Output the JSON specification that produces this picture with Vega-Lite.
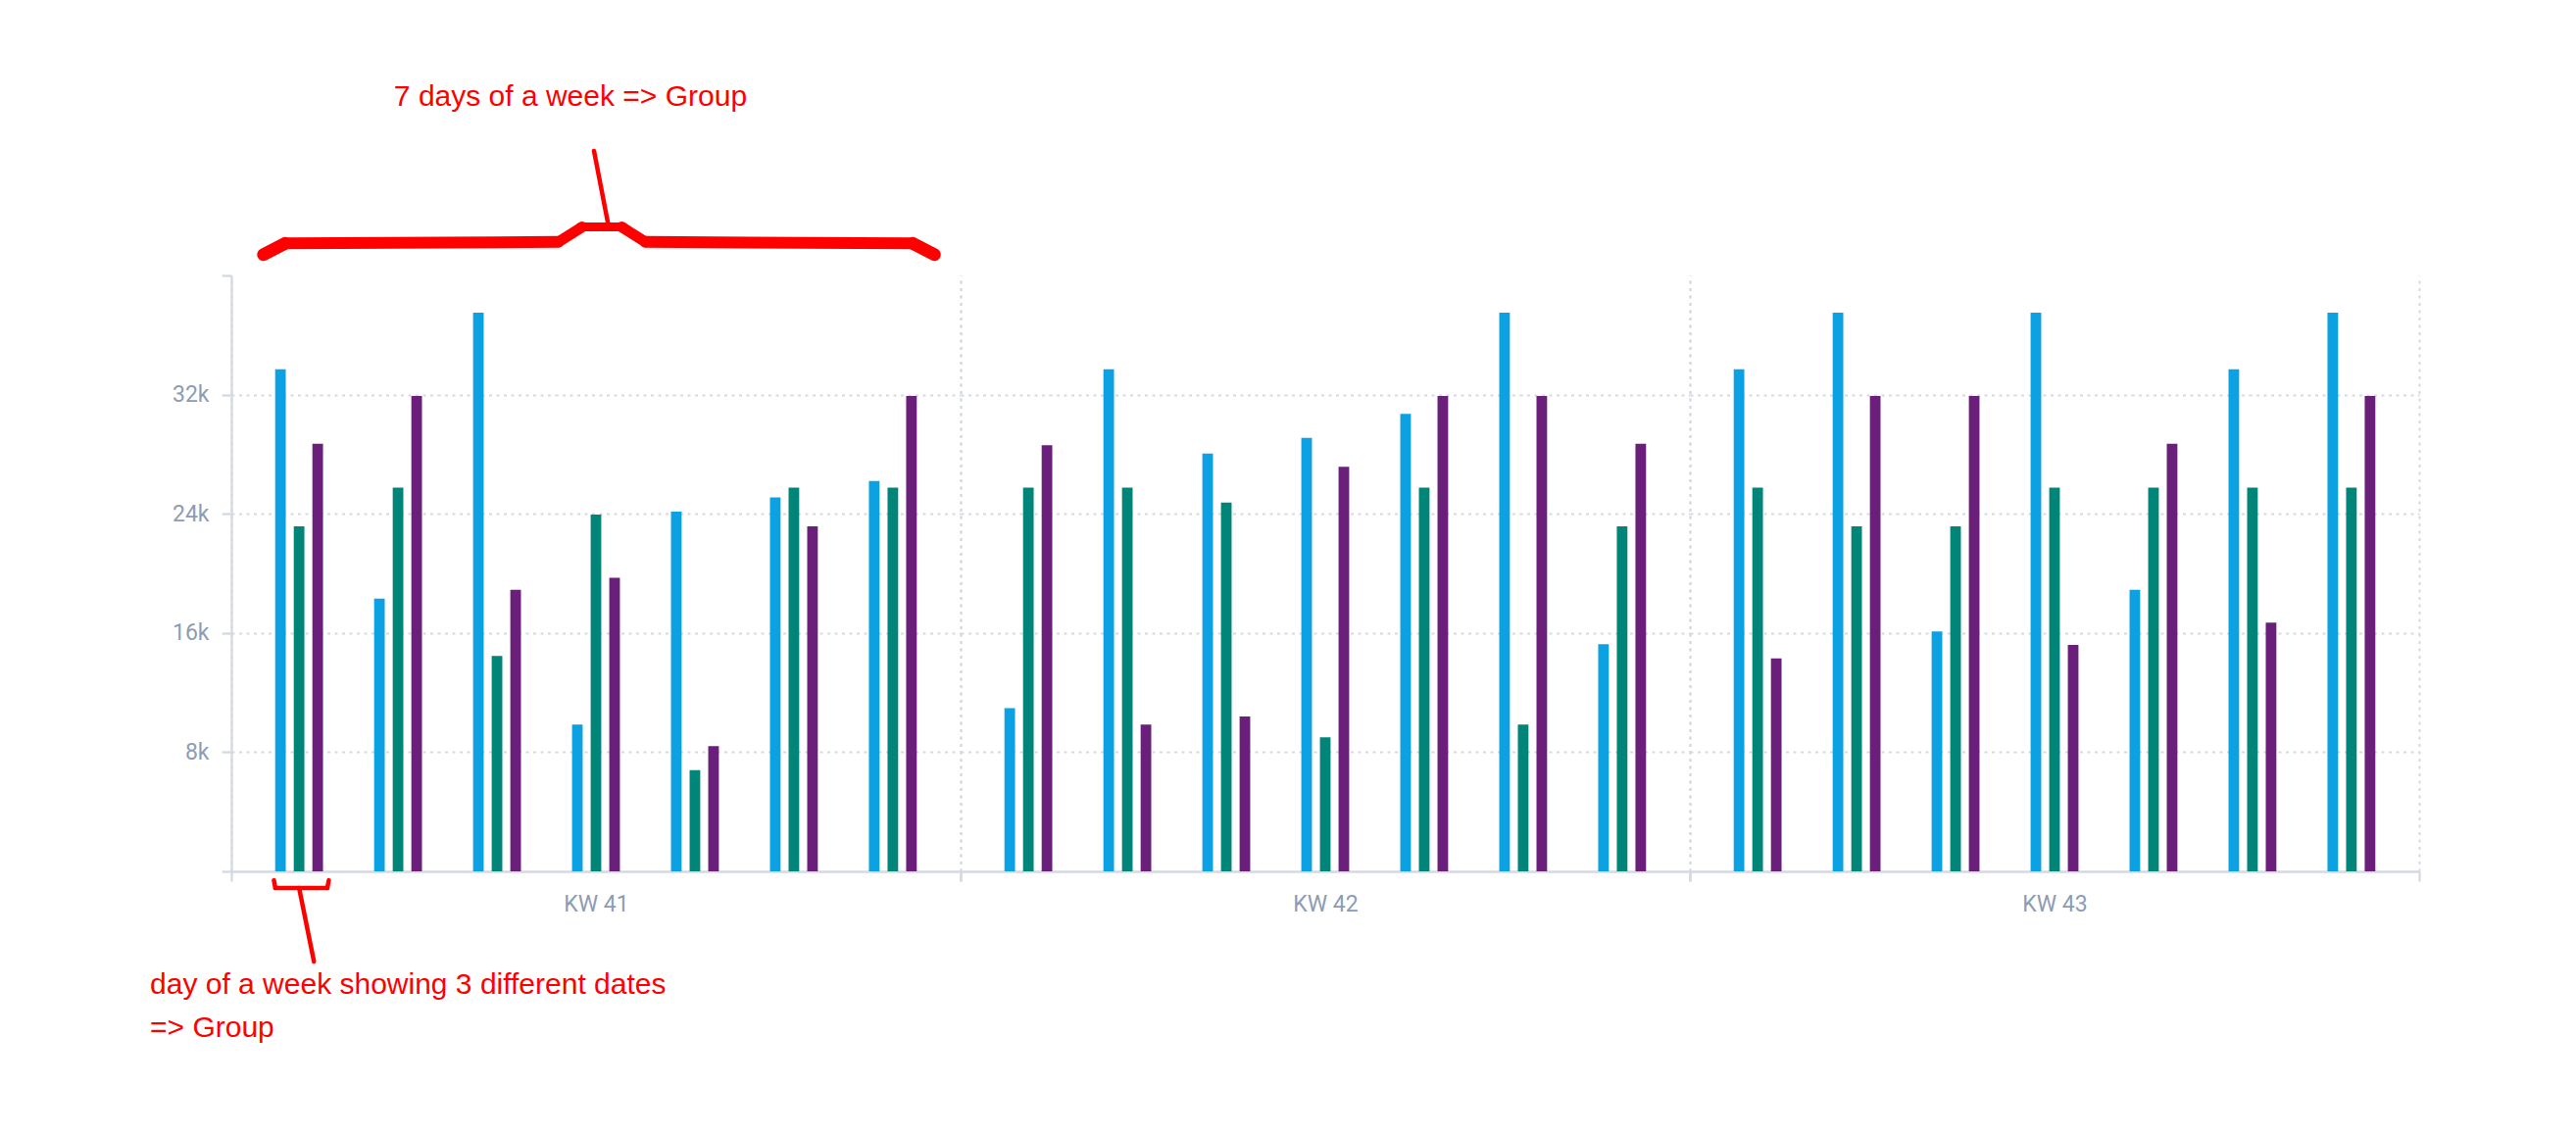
{
  "$schema": "https://vega.github.io/schema/vega-lite/v6.json",
  "padding": {"left": 153, "top": 83, "right": 10, "bottom": 10},
  "background": "white",
  "spacing": 0,
  "bounds": "flush",
  "config": {
    "view": {"stroke": null},
    "axis": {
      "labelFont": "Roboto",
      "labelFontSize": 23,
      "labelColor": "#8d9cb5",
      "domainColor": "#d4d9e2",
      "domainWidth": 2.3,
      "tickColor": "#d4d9e2",
      "tickWidth": 2.3,
      "tickSize": 10,
      "gridColor": "#d4d9e2",
      "gridDash": [3, 4.5],
      "gridWidth": 2
    }
  },
  "datasets": {
    "visits": [
      {"week": "KW 41", "day": "Mo", "series": "Datum 1", "value": 33700},
      {"week": "KW 41", "day": "Mo", "series": "Datum 2", "value": 23150},
      {"week": "KW 41", "day": "Mo", "series": "Datum 3", "value": 28700},
      {"week": "KW 41", "day": "Di", "series": "Datum 1", "value": 18300},
      {"week": "KW 41", "day": "Di", "series": "Datum 2", "value": 25750},
      {"week": "KW 41", "day": "Di", "series": "Datum 3", "value": 31900},
      {"week": "KW 41", "day": "Mi", "series": "Datum 1", "value": 37500},
      {"week": "KW 41", "day": "Mi", "series": "Datum 2", "value": 14450},
      {"week": "KW 41", "day": "Mi", "series": "Datum 3", "value": 18900},
      {"week": "KW 41", "day": "Do", "series": "Datum 1", "value": 9850},
      {"week": "KW 41", "day": "Do", "series": "Datum 2", "value": 23950},
      {"week": "KW 41", "day": "Do", "series": "Datum 3", "value": 19700},
      {"week": "KW 41", "day": "Fr", "series": "Datum 1", "value": 24150},
      {"week": "KW 41", "day": "Fr", "series": "Datum 2", "value": 6800},
      {"week": "KW 41", "day": "Fr", "series": "Datum 3", "value": 8400},
      {"week": "KW 41", "day": "Sa", "series": "Datum 1", "value": 25100},
      {"week": "KW 41", "day": "Sa", "series": "Datum 2", "value": 25750},
      {"week": "KW 41", "day": "Sa", "series": "Datum 3", "value": 23150},
      {"week": "KW 41", "day": "So", "series": "Datum 1", "value": 26200},
      {"week": "KW 41", "day": "So", "series": "Datum 2", "value": 25750},
      {"week": "KW 41", "day": "So", "series": "Datum 3", "value": 31900},
      {"week": "KW 42", "day": "Mo", "series": "Datum 1", "value": 10950},
      {"week": "KW 42", "day": "Mo", "series": "Datum 2", "value": 25750},
      {"week": "KW 42", "day": "Mo", "series": "Datum 3", "value": 28600},
      {"week": "KW 42", "day": "Di", "series": "Datum 1", "value": 33700},
      {"week": "KW 42", "day": "Di", "series": "Datum 2", "value": 25750},
      {"week": "KW 42", "day": "Di", "series": "Datum 3", "value": 9850},
      {"week": "KW 42", "day": "Mi", "series": "Datum 1", "value": 28050},
      {"week": "KW 42", "day": "Mi", "series": "Datum 2", "value": 24750},
      {"week": "KW 42", "day": "Mi", "series": "Datum 3", "value": 10400},
      {"week": "KW 42", "day": "Do", "series": "Datum 1", "value": 29100},
      {"week": "KW 42", "day": "Do", "series": "Datum 2", "value": 9000},
      {"week": "KW 42", "day": "Do", "series": "Datum 3", "value": 27150},
      {"week": "KW 42", "day": "Fr", "series": "Datum 1", "value": 30700},
      {"week": "KW 42", "day": "Fr", "series": "Datum 2", "value": 25750},
      {"week": "KW 42", "day": "Fr", "series": "Datum 3", "value": 31900},
      {"week": "KW 42", "day": "Sa", "series": "Datum 1", "value": 37500},
      {"week": "KW 42", "day": "Sa", "series": "Datum 2", "value": 9850},
      {"week": "KW 42", "day": "Sa", "series": "Datum 3", "value": 31900},
      {"week": "KW 42", "day": "So", "series": "Datum 1", "value": 15250},
      {"week": "KW 42", "day": "So", "series": "Datum 2", "value": 23150},
      {"week": "KW 42", "day": "So", "series": "Datum 3", "value": 28700},
      {"week": "KW 43", "day": "Mo", "series": "Datum 1", "value": 33700},
      {"week": "KW 43", "day": "Mo", "series": "Datum 2", "value": 25750},
      {"week": "KW 43", "day": "Mo", "series": "Datum 3", "value": 14300},
      {"week": "KW 43", "day": "Di", "series": "Datum 1", "value": 37500},
      {"week": "KW 43", "day": "Di", "series": "Datum 2", "value": 23150},
      {"week": "KW 43", "day": "Di", "series": "Datum 3", "value": 31900},
      {"week": "KW 43", "day": "Mi", "series": "Datum 1", "value": 16100},
      {"week": "KW 43", "day": "Mi", "series": "Datum 2", "value": 23150},
      {"week": "KW 43", "day": "Mi", "series": "Datum 3", "value": 31900},
      {"week": "KW 43", "day": "Do", "series": "Datum 1", "value": 37500},
      {"week": "KW 43", "day": "Do", "series": "Datum 2", "value": 25750},
      {"week": "KW 43", "day": "Do", "series": "Datum 3", "value": 15200},
      {"week": "KW 43", "day": "Fr", "series": "Datum 1", "value": 18900},
      {"week": "KW 43", "day": "Fr", "series": "Datum 2", "value": 25750},
      {"week": "KW 43", "day": "Fr", "series": "Datum 3", "value": 28700},
      {"week": "KW 43", "day": "Sa", "series": "Datum 1", "value": 33700},
      {"week": "KW 43", "day": "Sa", "series": "Datum 2", "value": 25750},
      {"week": "KW 43", "day": "Sa", "series": "Datum 3", "value": 16700},
      {"week": "KW 43", "day": "So", "series": "Datum 1", "value": 37500},
      {"week": "KW 43", "day": "So", "series": "Datum 2", "value": 25750},
      {"week": "KW 43", "day": "So", "series": "Datum 3", "value": 31900}
    ]
  },
  "hconcat": [
    {
      "width": 744,
      "height": 608,
      "data": {"name": "visits"},
      "transform": [{"filter": "datum.week === 'KW 41'"}],
      "layer": [
        {
          "mark": {"type": "bar"},
          "encoding": {
            "x": {"field": "day", "type": "nominal", "sort": ["Mo", "Di", "Mi", "Do", "Fr", "Sa", "So"], "scale": {"paddingInner": 0.4356, "paddingOuter": 0.4025}, "axis": null},
            "xOffset": {"field": "series", "type": "nominal", "scale": {"paddingInner": 0.43, "paddingOuter": 0.215}},
            "y": {
              "field": "value",
              "type": "quantitative",
              "scale": {"domain": [0, 40000], "nice": false},
              "axis": {
                "title": null,
                "values": [0, 8000, 16000, 24000, 32000, 40000],
                "format": "~s",
                "labelExpr": "datum.value > 0 && datum.value < 40000 ? datum.label : ''",
                "labelPadding": 13,
                "gridOpacity": {"condition": {"test": "datum.value === 0 || datum.value === 40000", "value": 0}, "value": 1}
              }
            },
            "color": {"field": "series", "type": "nominal", "scale": {"domain": ["Datum 1", "Datum 2", "Datum 3"], "range": ["#0ca1e2", "#008578", "#6a1f7a"]}, "legend": null}
          }
        },
        {
          "mark": {"type": "bar", "opacity": 0},
          "encoding": {
            "x": {"field": "week", "type": "nominal", "scale": {"paddingInner": 0, "paddingOuter": 0}, "axis": {"title": null, "tickBand": "extent", "grid": true, "labelAngle": 0, "labelPadding": 12}}
          }
        },
        {
          "data": {"values": [{}]},
          "layer": [
            {
              "mark": {"type": "text", "text": "7 days of a week => Group", "color": "#ff0000", "font": "Liberation Sans", "fontSize": 30, "align": "left", "baseline": "alphabetic"},
              "encoding": {
                "x": {"datum": 0.958, "type": "quantitative", "scale": {"domain": [-0.685, 6.685], "nice": false, "zero": false}, "axis": null},
                "y": {"datum": 51400, "type": "quantitative", "scale": {"domain": [0, 40000], "nice": false}}
              }
            },
            {
              "mark": {"type": "text", "text": ["day of a week showing 3 different dates", "=> Group"], "color": "#ff0000", "font": "Liberation Sans", "fontSize": 30, "lineHeight": 44.5, "align": "left", "baseline": "alphabetic"},
              "encoding": {
                "x": {"datum": -1.507, "type": "quantitative", "scale": {"domain": [-0.685, 6.685], "nice": false, "zero": false}, "axis": null},
                "y": {"datum": -8200, "type": "quantitative", "scale": {"domain": [0, 40000], "nice": false}}
              }
            },
            {
              "mark": {"type": "rule", "color": "#ff0000", "strokeWidth": 4.5, "strokeCap": "round"},
              "encoding": {
                "x": {"datum": 2.98, "type": "quantitative", "scale": {"domain": [-0.685, 6.685], "nice": false, "zero": false}, "axis": null},
                "x2": {"datum": 3.12},
                "y": {"datum": 48360, "type": "quantitative", "scale": {"domain": [0, 40000], "nice": false}},
                "y2": {"datum": 43550}
              }
            },
            {
              "mark": {"type": "rule", "color": "#ff0000", "strokeWidth": 13, "strokeCap": "round"},
              "encoding": {
                "x": {"datum": -0.36, "type": "quantitative", "scale": {"domain": [-0.685, 6.685], "nice": false, "zero": false}, "axis": null},
                "x2": {"datum": -0.14},
                "y": {"datum": 41400, "type": "quantitative", "scale": {"domain": [0, 40000], "nice": false}},
                "y2": {"datum": 42150}
              }
            },
            {
              "mark": {"type": "rule", "color": "#ff0000", "strokeWidth": 12, "strokeCap": "round"},
              "encoding": {
                "x": {"datum": -0.14, "type": "quantitative", "scale": {"domain": [-0.685, 6.685], "nice": false, "zero": false}, "axis": null},
                "x2": {"datum": 2.62},
                "y": {"datum": 42150, "type": "quantitative", "scale": {"domain": [0, 40000], "nice": false}},
                "y2": {"datum": 42250}
              }
            },
            {
              "mark": {"type": "rule", "color": "#ff0000", "strokeWidth": 11, "strokeCap": "round"},
              "encoding": {
                "x": {"datum": 2.62, "type": "quantitative", "scale": {"domain": [-0.685, 6.685], "nice": false, "zero": false}, "axis": null},
                "x2": {"datum": 2.86},
                "y": {"datum": 42250, "type": "quantitative", "scale": {"domain": [0, 40000], "nice": false}},
                "y2": {"datum": 43250}
              }
            },
            {
              "mark": {"type": "rule", "color": "#ff0000", "strokeWidth": 9, "strokeCap": "round"},
              "encoding": {
                "x": {"datum": 2.84, "type": "quantitative", "scale": {"domain": [-0.685, 6.685], "nice": false, "zero": false}, "axis": null},
                "x2": {"datum": 3.28},
                "y": {"datum": 43250, "type": "quantitative", "scale": {"domain": [0, 40000], "nice": false}},
                "y2": {"datum": 43250}
              }
            },
            {
              "mark": {"type": "rule", "color": "#ff0000", "strokeWidth": 11, "strokeCap": "round"},
              "encoding": {
                "x": {"datum": 3.26, "type": "quantitative", "scale": {"domain": [-0.685, 6.685], "nice": false, "zero": false}, "axis": null},
                "x2": {"datum": 3.5},
                "y": {"datum": 43250, "type": "quantitative", "scale": {"domain": [0, 40000], "nice": false}},
                "y2": {"datum": 42250}
              }
            },
            {
              "mark": {"type": "rule", "color": "#ff0000", "strokeWidth": 12, "strokeCap": "round"},
              "encoding": {
                "x": {"datum": 3.5, "type": "quantitative", "scale": {"domain": [-0.685, 6.685], "nice": false, "zero": false}, "axis": null},
                "x2": {"datum": 6.2},
                "y": {"datum": 42250, "type": "quantitative", "scale": {"domain": [0, 40000], "nice": false}},
                "y2": {"datum": 42150}
              }
            },
            {
              "mark": {"type": "rule", "color": "#ff0000", "strokeWidth": 13, "strokeCap": "round"},
              "encoding": {
                "x": {"datum": 6.2, "type": "quantitative", "scale": {"domain": [-0.685, 6.685], "nice": false, "zero": false}, "axis": null},
                "x2": {"datum": 6.42},
                "y": {"datum": 42150, "type": "quantitative", "scale": {"domain": [0, 40000], "nice": false}},
                "y2": {"datum": 41400}
              }
            },
            {
              "mark": {"type": "rule", "color": "#ff0000", "strokeWidth": 4.5, "strokeCap": "round"},
              "encoding": {
                "x": {"datum": -0.255, "type": "quantitative", "scale": {"domain": [-0.685, 6.685], "nice": false, "zero": false}, "axis": null},
                "x2": {"datum": -0.24},
                "y": {"datum": -600, "type": "quantitative", "scale": {"domain": [0, 40000], "nice": false}},
                "y2": {"datum": -1118}
              }
            },
            {
              "mark": {"type": "rule", "color": "#ff0000", "strokeWidth": 4.5, "strokeCap": "round"},
              "encoding": {
                "x": {"datum": -0.24, "type": "quantitative", "scale": {"domain": [-0.685, 6.685], "nice": false, "zero": false}, "axis": null},
                "x2": {"datum": 0.285},
                "y": {"datum": -1118, "type": "quantitative", "scale": {"domain": [0, 40000], "nice": false}},
                "y2": {"datum": -1118}
              }
            },
            {
              "mark": {"type": "rule", "color": "#ff0000", "strokeWidth": 4.5, "strokeCap": "round"},
              "encoding": {
                "x": {"datum": 0.3, "type": "quantitative", "scale": {"domain": [-0.685, 6.685], "nice": false, "zero": false}, "axis": null},
                "x2": {"datum": 0.285},
                "y": {"datum": -600, "type": "quantitative", "scale": {"domain": [0, 40000], "nice": false}},
                "y2": {"datum": -1118}
              }
            },
            {
              "mark": {"type": "rule", "color": "#ff0000", "strokeWidth": 4.5, "strokeCap": "round"},
              "encoding": {
                "x": {"datum": 0.0, "type": "quantitative", "scale": {"domain": [-0.685, 6.685], "nice": false, "zero": false}, "axis": null},
                "x2": {"datum": 0.15},
                "y": {"datum": -1118, "type": "quantitative", "scale": {"domain": [0, 40000], "nice": false}},
                "y2": {"datum": -6050}
              }
            }
          ]
        }
      ],
      "resolve": {"scale": {"x": "independent"}}
    },
    {
      "width": 744,
      "height": 608,
      "data": {"name": "visits"},
      "transform": [{"filter": "datum.week === 'KW 42'"}],
      "layer": [
        {
          "mark": {"type": "bar"},
          "encoding": {
            "x": {"field": "day", "type": "nominal", "sort": ["Mo", "Di", "Mi", "Do", "Fr", "Sa", "So"], "scale": {"paddingInner": 0.4356, "paddingOuter": 0.4025}, "axis": null},
            "xOffset": {"field": "series", "type": "nominal", "scale": {"paddingInner": 0.43, "paddingOuter": 0.215}},
            "y": {
              "field": "value",
              "type": "quantitative",
              "scale": {"domain": [0, 40000], "nice": false},
              "axis": {"title": null, "values": [8000, 16000, 24000, 32000], "labels": false, "ticks": false, "domain": false, "minExtent": 0}
            },
            "color": {"field": "series", "type": "nominal", "scale": {"domain": ["Datum 1", "Datum 2", "Datum 3"], "range": ["#0ca1e2", "#008578", "#6a1f7a"]}, "legend": null}
          }
        },
        {
          "mark": {"type": "bar", "opacity": 0},
          "encoding": {
            "x": {"field": "week", "type": "nominal", "scale": {"paddingInner": 0, "paddingOuter": 0}, "axis": {"title": null, "tickBand": "extent", "grid": true, "labelAngle": 0, "labelPadding": 12}}
          }
        }
      ],
      "resolve": {"scale": {"x": "independent"}}
    },
    {
      "width": 744,
      "height": 608,
      "data": {"name": "visits"},
      "transform": [{"filter": "datum.week === 'KW 43'"}],
      "layer": [
        {
          "mark": {"type": "bar"},
          "encoding": {
            "x": {"field": "day", "type": "nominal", "sort": ["Mo", "Di", "Mi", "Do", "Fr", "Sa", "So"], "scale": {"paddingInner": 0.4356, "paddingOuter": 0.4025}, "axis": null},
            "xOffset": {"field": "series", "type": "nominal", "scale": {"paddingInner": 0.43, "paddingOuter": 0.215}},
            "y": {
              "field": "value",
              "type": "quantitative",
              "scale": {"domain": [0, 40000], "nice": false},
              "axis": {"title": null, "values": [8000, 16000, 24000, 32000], "labels": false, "ticks": false, "domain": false, "minExtent": 0}
            },
            "color": {"field": "series", "type": "nominal", "scale": {"domain": ["Datum 1", "Datum 2", "Datum 3"], "range": ["#0ca1e2", "#008578", "#6a1f7a"]}, "legend": null}
          }
        },
        {
          "mark": {"type": "bar", "opacity": 0},
          "encoding": {
            "x": {"field": "week", "type": "nominal", "scale": {"paddingInner": 0, "paddingOuter": 0}, "axis": {"title": null, "tickBand": "extent", "grid": true, "labelAngle": 0, "labelPadding": 12}}
          }
        }
      ],
      "resolve": {"scale": {"x": "independent"}}
    }
  ]
}
